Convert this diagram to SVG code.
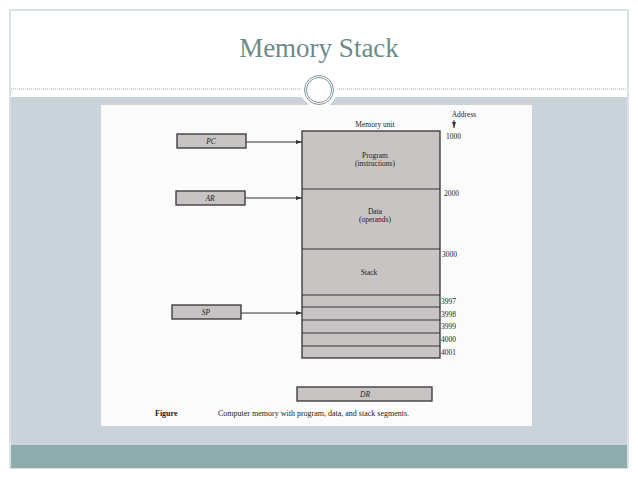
<svg xmlns="http://www.w3.org/2000/svg" width="638" height="478" viewBox="0 0 638 478">
<style>
.s{font-family:"Liberation Serif",serif;fill:#222}
.reg{fill:#c8c4c4;stroke:#333;stroke-width:1.3}
.ln{stroke:#333;stroke-width:1;fill:none}
</style>
<defs><marker id="a" markerWidth="6" markerHeight="4" refX="6" refY="2" orient="auto"><path d="M0,0 L6,2 L0,4z" fill="#333"/></marker></defs>
<rect x="0" y="0" width="638" height="478" fill="#fff"/>
<rect x="10" y="10" width="618" height="458" fill="#fff" stroke="#b7c6c8"/>
<rect x="11" y="97" width="616" height="348" fill="#c9d3d9"/>
<rect x="11" y="445" width="616" height="23" fill="#8eacac"/>
<line x1="11" y1="89" x2="627" y2="89" stroke="#9fb0b0" stroke-dasharray="1,1"/>
<text x="319" y="57" text-anchor="middle" font-family="Liberation Serif,serif" font-size="27" fill="#6e8a8a">Memory Stack</text>
<circle cx="319" cy="90" r="18" fill="#fff"/>
<circle cx="319" cy="90" r="14.5" fill="none" stroke="#7e9696" stroke-width="1"/>
<circle cx="319" cy="90" r="12.5" fill="none" stroke="#7e9696" stroke-width="1"/>
<rect x="101" y="105" width="431" height="321" fill="#fbfbfb"/>
<g id="memory">
<rect class="reg" x="302" y="131" width="138" height="227"/>
<path class="ln" d="M302 189H440M302 249H440M302 295H440M302 307H440M302 320H440M302 333H440M302 346H440"/>
<text class="s" x="375" y="127" text-anchor="middle" font-size="7.5">Memory unit</text>
<text class="s" x="375" y="158" text-anchor="middle" font-size="7.5">Program</text>
<text class="s" x="375" y="166" text-anchor="middle" font-size="7.5">(instructions)</text>
<text class="s" x="375" y="214" text-anchor="middle" font-size="7.5">Data</text>
<text class="s" x="375" y="222" text-anchor="middle" font-size="7.5">(operands)</text>
<text class="s" x="369" y="275" text-anchor="middle" font-size="7.5">Stack</text>
</g>
<g id="addr" class="s" font-size="7.5">
<text x="464" y="117" text-anchor="middle">Address</text>
<text x="446" y="139">1000</text>
<text x="444" y="196">2000</text>
<text x="442" y="257">3000</text>
<text x="441" y="304">3997</text>
<text x="441" y="317">3998</text>
<text x="441" y="329">3999</text>
<text x="441" y="342">4000</text>
<text x="441" y="355">4001</text>
</g>
<g id="PC"><rect class="reg" x="177" y="134" width="69" height="14"/><text class="s" x="211" y="144" text-anchor="middle" font-size="7.5" font-style="italic">PC</text></g>
<g id="AR"><rect class="reg" x="176" y="191" width="69" height="14"/><text class="s" x="210" y="201" text-anchor="middle" font-size="7.5" font-style="italic">AR</text></g>
<g id="SP"><rect class="reg" x="172" y="305" width="69" height="14"/><text class="s" x="206" y="315" text-anchor="middle" font-size="7.5" font-style="italic">SP</text></g>
<g id="DR"><rect class="reg" x="297" y="387" width="135" height="14"/><text class="s" x="365" y="397" text-anchor="middle" font-size="7.5" font-style="italic">DR</text></g>
<g id="connectors">
<line class="ln" x1="246" y1="142" x2="302" y2="142" marker-end="url(#a)"/>
<line class="ln" x1="245" y1="198" x2="302" y2="198" marker-end="url(#a)"/>
<line class="ln" x1="241" y1="313" x2="302" y2="313" marker-end="url(#a)"/>
<line class="ln" x1="454" y1="120" x2="454" y2="128" marker-end="url(#a)"/>
</g>
<text class="s" x="155" y="416" font-size="8" font-weight="bold">Figure</text>
<text class="s" x="218" y="416" font-size="8">Computer memory with program, data, and stack segments.</text>
</svg>
